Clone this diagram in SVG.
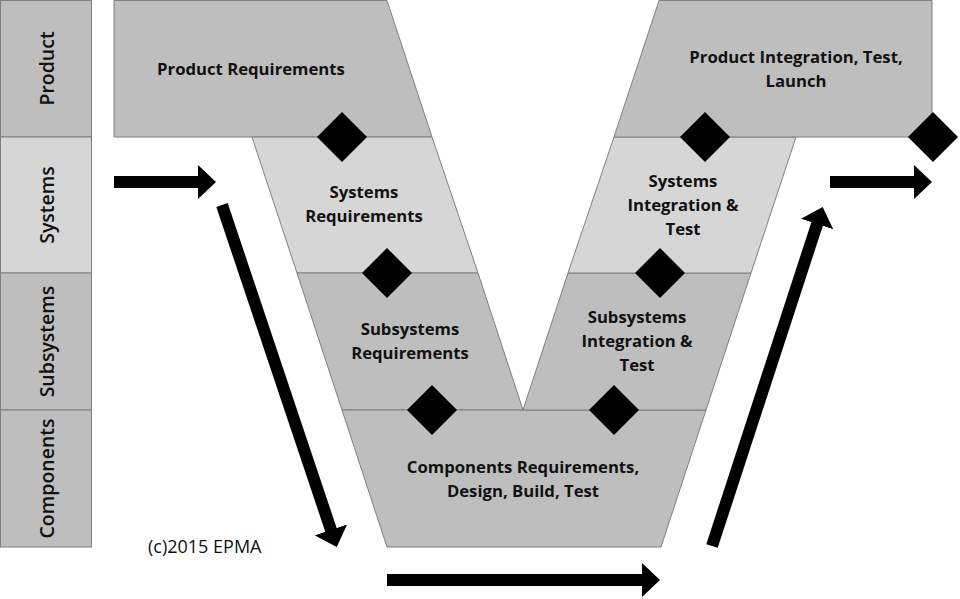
<svg xmlns="http://www.w3.org/2000/svg" width="960" height="599" viewBox="0 0 960 599">
<style>
.dark{fill:#bebebe;stroke:#7f7f7f;stroke-width:1}
.light{fill:#d6d6d6;stroke:#7f7f7f;stroke-width:1}
.lbl{font-family:"Open Sans","Noto Sans",sans-serif;font-weight:700;font-size:16.7px;fill:#111;text-anchor:middle}
.side{font-family:"Open Sans","Noto Sans",sans-serif;font-weight:600;font-size:19.5px;fill:#111;text-anchor:middle}
.dia{fill:#000}
.arr{stroke:#000;stroke-width:12;fill:none}
.copy{font-family:"Open Sans","Noto Sans",sans-serif;font-size:18px;fill:#111}
</style>
<defs>
<marker id="head" viewBox="0 -17 18 34" markerWidth="18" markerHeight="34" refX="1" refY="0" markerUnits="userSpaceOnUse" orient="auto">
<path d="M0,-17 L18,0 L0,17 z" fill="#000"/>
</marker>
</defs>
<rect x="0" y="0" width="960" height="599" fill="#fff"/>

<g id="levels">
<g id="level-product"><rect class="dark" x="0.5" y="0.5" width="91" height="136.5"/><text class="side" transform="translate(54,68.5) rotate(-90)">Product</text></g>
<g id="level-systems"><rect class="light" x="0.5" y="137" width="91" height="136"/><text class="side" transform="translate(54,205) rotate(-90)">Systems</text></g>
<g id="level-subsystems"><rect class="dark" x="0.5" y="273" width="91" height="137"/><text class="side" transform="translate(54,341.5) rotate(-90)">Subsystems</text></g>
<g id="level-components"><rect class="dark" x="0.5" y="410" width="91" height="137"/><text class="side" transform="translate(54,478.5) rotate(-90)">Components</text></g>
</g>

<g id="product-req"><polygon class="dark" points="114,0.5 387,0.5 432,137 114,137"/><text class="lbl" x="251" y="75">Product Requirements</text></g>
<g id="systems-req"><polygon class="light" points="252,137 432,137 478,273 297,273"/><text class="lbl" x="364" y="198">Systems</text><text class="lbl" x="364" y="222">Requirements</text></g>
<g id="subsystems-req"><polygon class="dark" points="297,273 478,273 523,410 342,410"/><text class="lbl" x="410" y="335">Subsystems</text><text class="lbl" x="410" y="359">Requirements</text></g>
<g id="components"><polygon class="dark" points="342,410 706,410 661,547 387,547"/><text class="lbl" x="523" y="473">Components Requirements,</text><text class="lbl" x="523" y="497">Design, Build, Test</text></g>
<g id="subsystems-int"><polygon class="dark" points="568,273 751,273 706,410 523,410"/><text class="lbl" x="637" y="323">Subsystems</text><text class="lbl" x="637" y="347">Integration &amp;</text><text class="lbl" x="637" y="371">Test</text></g>
<g id="systems-int"><polygon class="light" points="614,137 796,137 751,273 568,273"/><text class="lbl" x="683" y="187">Systems</text><text class="lbl" x="683" y="211">Integration &amp;</text><text class="lbl" x="683" y="235">Test</text></g>
<g id="product-int"><polygon class="dark" points="659,0.5 932,0.5 932,137 614,137"/><text class="lbl" x="796" y="63">Product Integration, Test,</text><text class="lbl" x="796" y="87">Launch</text></g>

<g id="gates">
<polygon class="dia" points="342,112 367,137 342,162 317,137"/>
<polygon class="dia" points="387,248 412,273 387,298 362,273"/>
<polygon class="dia" points="432,385 457,410 432,435 407,410"/>
<polygon class="dia" points="705,112 730,137 705,162 680,137"/>
<polygon class="dia" points="660,248 685,273 660,298 635,273"/>
<polygon class="dia" points="614,385 639,410 614,435 589,410"/>
<polygon class="dia" points="933,112 958,137 933,162 908,137"/>
</g>

<g id="connectors">
<line class="arr" x1="114" y1="182" x2="199" y2="182" marker-end="url(#head)"/>
<line class="arr" x1="222" y1="205" x2="331.3" y2="530.9" marker-end="url(#head)"/>
<line class="arr" x1="387" y1="580" x2="643" y2="580" marker-end="url(#head)"/>
<line class="arr" x1="712" y1="546" x2="817.4" y2="223.1" marker-end="url(#head)"/>
<line class="arr" x1="830" y1="182" x2="915" y2="182" marker-end="url(#head)"/>
</g>

<text class="copy" x="148" y="553">(c)2015 EPMA</text>
</svg>
